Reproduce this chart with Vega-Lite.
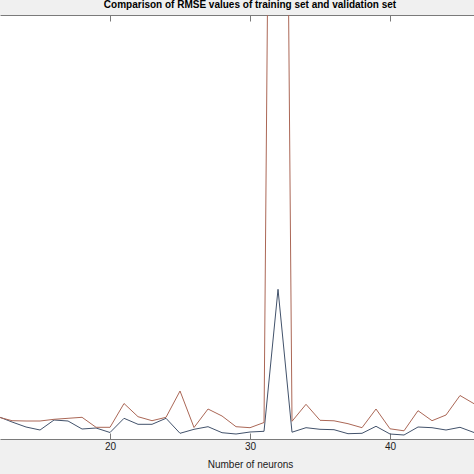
{
  "$schema": "https://vega.github.io/schema/vega-lite/v6.json",
  "width": 474,
  "height": 424,
  "autosize": {"type": "none"},
  "padding": {"left": 0, "right": 0, "top": 15, "bottom": 35},
  "background": "#f0f0f0",
  "config": {
    "view": {"fill": "white", "stroke": null},
    "font": "Liberation Sans",
    "axis": {
      "grid": false,
      "domainColor": "#7a7a7a",
      "tickColor": "#7a7a7a",
      "labelColor": "#1a1a1a",
      "labelFont": "Liberation Sans",
      "labelFontSize": 10,
      "titleFont": "Liberation Sans",
      "titleFontSize": 10,
      "titleFontWeight": "normal",
      "titleColor": "#1a1a1a"
    }
  },
  "title": {
    "text": "Comparison of RMSE values of training set and validation set",
    "font": "Liberation Sans",
    "fontSize": 10,
    "fontWeight": "bold",
    "color": "#000000",
    "baseline": "alphabetic",
    "offset": 4.5,
    "dx": 13,
    "dy": 7.5
  },
  "data": {
    "values": [
      {"neurons": 12, "set": "Training set", "rmse": 0.225},
      {"neurons": 13, "set": "Training set", "rmse": 0.17},
      {"neurons": 14, "set": "Training set", "rmse": 0.12},
      {"neurons": 15, "set": "Training set", "rmse": 0.09},
      {"neurons": 16, "set": "Training set", "rmse": 0.19},
      {"neurons": 17, "set": "Training set", "rmse": 0.18},
      {"neurons": 18, "set": "Training set", "rmse": 0.10},
      {"neurons": 19, "set": "Training set", "rmse": 0.11},
      {"neurons": 20, "set": "Training set", "rmse": 0.065},
      {"neurons": 21, "set": "Training set", "rmse": 0.207},
      {"neurons": 22, "set": "Training set", "rmse": 0.147},
      {"neurons": 23, "set": "Training set", "rmse": 0.147},
      {"neurons": 24, "set": "Training set", "rmse": 0.207},
      {"neurons": 25, "set": "Training set", "rmse": 0.057},
      {"neurons": 26, "set": "Training set", "rmse": 0.097},
      {"neurons": 27, "set": "Training set", "rmse": 0.123},
      {"neurons": 28, "set": "Training set", "rmse": 0.063},
      {"neurons": 29, "set": "Training set", "rmse": 0.05},
      {"neurons": 30, "set": "Training set", "rmse": 0.07},
      {"neurons": 31, "set": "Training set", "rmse": 0.077},
      {"neurons": 32, "set": "Training set", "rmse": 1.497},
      {"neurons": 33, "set": "Training set", "rmse": 0.068},
      {"neurons": 34, "set": "Training set", "rmse": 0.113},
      {"neurons": 35, "set": "Training set", "rmse": 0.097},
      {"neurons": 36, "set": "Training set", "rmse": 0.093},
      {"neurons": 37, "set": "Training set", "rmse": 0.053},
      {"neurons": 38, "set": "Training set", "rmse": 0.057},
      {"neurons": 39, "set": "Training set", "rmse": 0.127},
      {"neurons": 40, "set": "Training set", "rmse": 0.05},
      {"neurons": 41, "set": "Training set", "rmse": 0.04},
      {"neurons": 42, "set": "Training set", "rmse": 0.12},
      {"neurons": 43, "set": "Training set", "rmse": 0.113},
      {"neurons": 44, "set": "Training set", "rmse": 0.09},
      {"neurons": 45, "set": "Training set", "rmse": 0.117},
      {"neurons": 46, "set": "Training set", "rmse": 0.065},
      {"neurons": 47, "set": "Training set", "rmse": 0.08},
      {"neurons": 12, "set": "Validation set", "rmse": 0.22},
      {"neurons": 13, "set": "Validation set", "rmse": 0.183},
      {"neurons": 14, "set": "Validation set", "rmse": 0.18},
      {"neurons": 15, "set": "Validation set", "rmse": 0.18},
      {"neurons": 16, "set": "Validation set", "rmse": 0.197},
      {"neurons": 17, "set": "Validation set", "rmse": 0.207},
      {"neurons": 18, "set": "Validation set", "rmse": 0.217},
      {"neurons": 19, "set": "Validation set", "rmse": 0.117},
      {"neurons": 20, "set": "Validation set", "rmse": 0.117},
      {"neurons": 21, "set": "Validation set", "rmse": 0.355},
      {"neurons": 22, "set": "Validation set", "rmse": 0.223},
      {"neurons": 23, "set": "Validation set", "rmse": 0.183},
      {"neurons": 24, "set": "Validation set", "rmse": 0.217},
      {"neurons": 25, "set": "Validation set", "rmse": 0.48},
      {"neurons": 26, "set": "Validation set", "rmse": 0.115},
      {"neurons": 27, "set": "Validation set", "rmse": 0.30},
      {"neurons": 28, "set": "Validation set", "rmse": 0.23},
      {"neurons": 29, "set": "Validation set", "rmse": 0.123},
      {"neurons": 30, "set": "Validation set", "rmse": 0.113},
      {"neurons": 31, "set": "Validation set", "rmse": 0.165},
      {"neurons": 32, "set": "Validation set", "rmse": 17.0},
      {"neurons": 33, "set": "Validation set", "rmse": 0.177},
      {"neurons": 34, "set": "Validation set", "rmse": 0.347},
      {"neurons": 35, "set": "Validation set", "rmse": 0.187},
      {"neurons": 36, "set": "Validation set", "rmse": 0.182},
      {"neurons": 37, "set": "Validation set", "rmse": 0.153},
      {"neurons": 38, "set": "Validation set", "rmse": 0.113},
      {"neurons": 39, "set": "Validation set", "rmse": 0.30},
      {"neurons": 40, "set": "Validation set", "rmse": 0.102},
      {"neurons": 41, "set": "Validation set", "rmse": 0.082},
      {"neurons": 42, "set": "Validation set", "rmse": 0.283},
      {"neurons": 43, "set": "Validation set", "rmse": 0.183},
      {"neurons": 44, "set": "Validation set", "rmse": 0.24},
      {"neurons": 45, "set": "Validation set", "rmse": 0.435},
      {"neurons": 46, "set": "Validation set", "rmse": 0.353},
      {"neurons": 47, "set": "Validation set", "rmse": 0.30}
    ]
  },
  "layer": [
    {
      "mark": {"type": "line", "clip": true, "strokeWidth": 1},
      "encoding": {
        "x": {
          "field": "neurons",
          "type": "quantitative",
          "scale": {"domain": [12.14, 46], "nice": false, "zero": false},
          "axis": {
            "orient": "bottom",
            "values": [20, 30, 40],
            "tickSize": -6,
            "labelPadding": 8,
            "title": "Number of neurons",
            "titleX": 250,
            "titleY": 28.5,
            "titleBaseline": "alphabetic"
          }
        },
        "y": {
          "field": "rmse",
          "type": "quantitative",
          "scale": {"domain": [0, 4.24], "nice": false},
          "axis": null
        },
        "color": {
          "field": "set",
          "type": "nominal",
          "scale": {"domain": ["Training set", "Validation set"], "range": ["#42526b", "#ab6756"]},
          "legend": null
        }
      }
    },
    {
      "mark": {"type": "line", "strokeOpacity": 0, "clip": true},
      "encoding": {
        "x": {
          "field": "neurons",
          "type": "quantitative",
          "scale": {"domain": [12.14, 46], "nice": false, "zero": false},
          "axis": {
            "orient": "top",
            "values": [20, 30, 40],
            "tickSize": -6,
            "labels": false,
            "title": null
          }
        },
        "y": {
          "field": "rmse",
          "type": "quantitative",
          "scale": {"domain": [0, 4.24], "nice": false},
          "axis": null
        },
        "detail": {"field": "set", "type": "nominal"}
      }
    }
  ],
  "resolve": {"axis": {"x": "independent"}}
}
